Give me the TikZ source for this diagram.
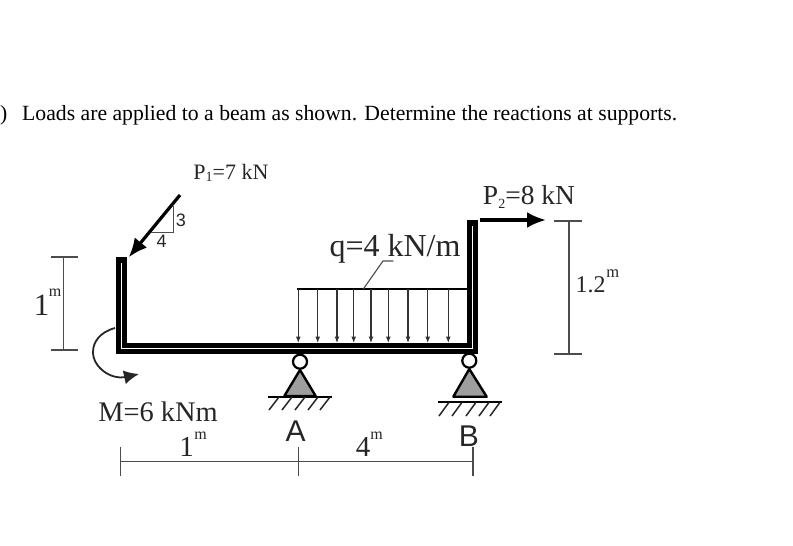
\documentclass[tikz,border=0pt]{standalone}
\usepackage{fontspec}
\setmainfont{Liberation Serif}
\newfontfamily\labelfont{Liberation Sans}
\usetikzlibrary{positioning,arrows.meta}
\definecolor{dimgray}{gray}{0.3}
\definecolor{txtgray}{gray}{0.15}
\newcommand{\fs}[1]{\fontsize{#1}{#1}\selectfont}
\begin{document}
\begin{tikzpicture}[>=latex,x=1pt,y=-1pt,
	dimline/.style={dimgray,line width=1.1pt},
	hatch/.style={black!85,line width=1.5pt},
	load/.style={black!80,line width=1.1pt,-{Latex[length=6.5pt,width=5pt]}},
	force/.style={black,line width=3.2pt,-{Latex[length=19pt,width=16pt]}},
	txt/.style={inner sep=0pt,text=txtgray},
	pin/.style={draw=black,fill=white,line width=2.2pt,circle,minimum size=14pt,inner sep=0pt},
	wedge/.style={draw=black,fill=black!38,line width=2.4pt,line join=round}]
	\useasboundingbox (0,0) rectangle (793,546);

	\node[inner sep=0pt,anchor=base west] (paren) at (0,120) {\fs{21.7})};
	\node[inner sep=0pt,anchor=base west] (title) at (22,120) {\fs{21.7}Loads are applied to a beam as shown. Determine the reactions at supports.};

	% frame
	\draw[black,line width=11pt] (121.5,256.5) -- (121.5,348.7) -- (472.3,348.7) -- (472.3,220);
	\draw[white,line width=1.4pt] (121.5,263) -- (121.5,348.7) -- (472.3,348.7) -- (472.3,226);

	% P1
	\coordinate (p1a) at (180,195);
	\coordinate (p1b) at (128.7,257.3);
	\draw[force] (p1a) -- (p1b);
	\draw[dimgray,line width=1.1pt] (173.3,206) -- (173.3,232.7) -- (150.7,232.7);
	\node[txt] (p1lab) at (231,173) {\fs{22}P\raisebox{-1.5pt}{\fs{14}1}=7 kN};
	\node[txt] (three) at (181,220) {\labelfont\fs{18}3};
	\node[txt] (four) at (161.7,241.5) {\labelfont\fs{18}4};

	% P2
	\coordinate (p2a) at (480,220);
	\coordinate (p2b) at (546,220);
	\draw[force] (p2a) -- (p2b);
	\node[txt] (p2lab) at (529,197) {\fs{27.5}P\raisebox{-4pt}{\fs{14}2}=8 kN};

	% moment
	\coordinate (ma) at (115,328);
	\coordinate (mb) at (139,374);
	\draw[black!85,line width=1.8pt,-{Latex[length=15pt,width=14pt]}] (ma) .. controls (100,332) and (93,342) .. (93,352) .. controls (93,368) and (112,380) .. (mb);
	\node[txt] (mlab) at (158,412) {\fs{28.4}M=6 kNm};

	% distributed load
	\coordinate (qa) at (297.3,289.3);
	\coordinate (qb) at (467,289.3);
	\draw[black,line width=2pt] (qa) -- (qb);
	\draw[load] (298.3,289.3) -- (298.3,343); %1
	\draw[load] (317.7,289.3) -- (317.7,343); %2
	\draw[load] (337,289.3) -- (337,343); %3
	\draw[load] (353.7,289.3) -- (353.7,343); %4
	\draw[load] (371,289.3) -- (371,343); %5
	\draw[load] (388.3,289.3) -- (388.3,343); %6
	\draw[load] (408,289.3) -- (408,343); %7
	\draw[load] (427.7,289.3) -- (427.7,343); %8
	\draw[load] (448.3,289.3) -- (448.3,343); %9
	\node[txt] (qlab) at (395,249) {\fs{32}q=4 kN/m};
	\coordinate (qc) at (363.3,289);
	\coordinate (qd) at (383,261);
	\coordinate (qe) at (393.3,261);
	\draw[dimline] (qc) -- (qd) -- (qe);

	% support A
	\node[pin] (pinA) at (300,361.7) {};
	\draw[wedge] (300,370) -- (284.3,396) -- (315.7,396) -- cycle;
	\draw[black,line width=1.7pt] (268,397) -- (331.7,397);
	\draw[hatch] (269,410) -- (279,397);
	\draw[hatch] (282,410) -- (292,397);
	\draw[hatch] (295,410) -- (305,397);
	\draw[hatch] (308,410) -- (318,397);
	\draw[hatch] (320,410) -- (330,397);
	\node[txt] (labA) at (295.7,431) {\labelfont\fs{30}A};

	% support B
	\node[pin] (pinB) at (469.3,360.7) {};
	\draw[wedge] (469.3,369) -- (453.3,396.7) -- (486.7,396.7) -- cycle;
	\draw[black,line width=1.7pt] (438.3,402.3) -- (501.7,402.3);
	\draw[hatch] (439,416) -- (449,402.3);
	\draw[hatch] (452,416) -- (462,402.3);
	\draw[hatch] (466,416) -- (476,402.3);
	\draw[hatch] (479,416) -- (489,402.3);
	\draw[hatch] (490,416) -- (500,402.3);
	\node[txt] (labB) at (469,436) {\labelfont\fs{30}B};

	% left dimension
	\draw[dimline] (50.7,257) -- (78.3,257);
	\draw[dimline] (50.7,350) -- (78.3,350);
	\draw[dimline] (63.7,257) -- (63.7,350);
	\node[txt] (oneL) at (41.7,305) {\fs{31}1};
	\node[txt] (mL) at (55,293) {\fs{16}m};

	% right dimension
	\draw[dimline] (554,221) -- (582.3,221);
	\draw[dimline] (554,354) -- (582.3,354);
	\draw[dimline] (569,221) -- (569,354);
	\node[txt,anchor=west] (oneR) at (575.5,285) {\fs{24}1.2};
	\node[txt] (mR) at (612.7,274) {\fs{16.5}m};

	% bottom dimension
	\draw[dimline] (120.7,461.5) -- (473,461.5);
	\draw[dimline] (120.7,447.3) -- (120.7,475.7);
	\draw[dimline] (298.3,447.3) -- (298.3,475.7);
	\draw[dimline] (473,447.3) -- (473,475.7);
	\node[txt] (oneB) at (186.7,447) {\fs{29}1};
	\node[txt] (mB) at (200.7,435.7) {\fs{16}m};
	\node[txt] (fourB) at (363,447) {\fs{29}4};
	\node[txt] (mC) at (376.7,435.7) {\fs{16}m};
\end{tikzpicture}
\end{document}
